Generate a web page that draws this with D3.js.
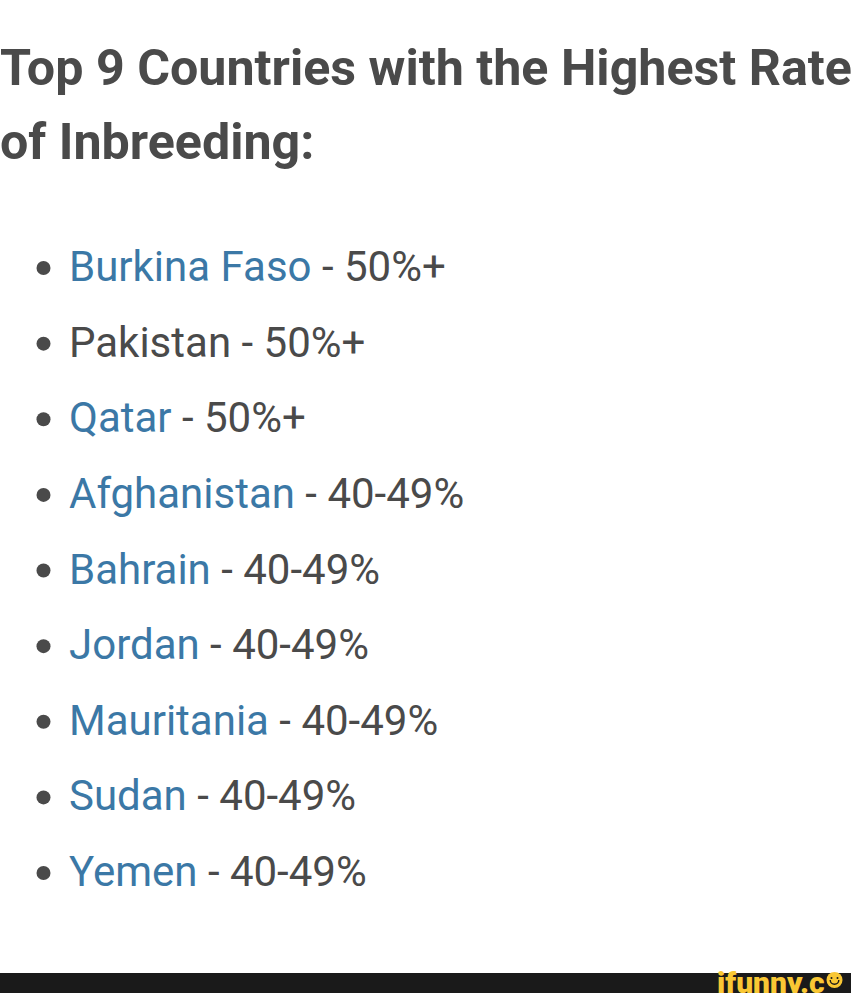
<!DOCTYPE html>
<html>
<head>
<meta charset="utf-8">
<script src="https://cdnjs.cloudflare.com/ajax/libs/d3/7.8.5/d3.min.js"></script>
<style>
html,body{margin:0;padding:0;background:#fff;}
svg{display:block;}
text{font-family:Roboto,sans-serif;}
</style>
</head>
<body>
<script>
var titleLines = ["Top 9 Countries with the Highest Rate", "of Inbreeding:"];
var countries = ["Burkina Faso","Pakistan","Qatar","Afghanistan","Bahrain","Jordan","Mauritania","Sudan","Yemen"];
var rates = ["50%+","50%+","50%+","40-49%","40-49%","40-49%","40-49%","40-49%","40-49%"];
var linked = [true,false,true,true,true,true,true,true,true];

var width = 851, height = 993;
var svg = d3.select("body").append("svg").attr("width", width).attr("height", height);

svg.append("rect").attr("width", width).attr("height", height).attr("fill", "#fff");

//title
svg.selectAll("text.title").data(titleLines).enter().append("text")
	.attr("class", "title")
	.attr("x", 0)
	.attr("y", function(d, i){ return 85 + i*74; })
	.attr("font-size", 50.2)
	.attr("font-weight", 700)
	.attr("fill", "#4a4a4a")
	.text(function(d){ return d; });

//rows
var y = d3.scalePoint().domain(countries).range([281, 886]);

var rows = svg.selectAll("g.row").data(countries).enter().append("g")
	.attr("class", "row")
	.attr("transform", function(d){ return "translate(0," + y(d) + ")"; });

rows.append("circle")
	.attr("cx", 43.5)
	.attr("cy", -13)
	.attr("r", 7)
	.attr("fill", "#4a4a4a");

var label = rows.append("text")
	.attr("x", 69)
	.attr("font-size", 42)
	.attr("fill", "#4a4a4a");

label.append("tspan")
	.attr("fill", function(d, i){ return linked[i] ? "#3b78a6" : "#4a4a4a"; })
	.text(function(d){ return d; });

label.append("tspan")
	.text(function(d, i){ return " - " + rates[i]; });

//footer bar
svg.append("rect")
	.attr("x", 0)
	.attr("y", 973)
	.attr("width", width)
	.attr("height", 20)
	.attr("fill", "#1a1a1a");

//watermark, the o is the smiley and the bottom runs off the picture
var logo = svg.append("g");

logo.append("text")
	.attr("x", 717)
	.attr("y", 993)
	.attr("font-size", 30)
	.attr("font-weight", 900)
	.attr("fill", "#f9c734")
	.text("ifunny.c");

logo.append("circle")
	.attr("cx", 834.5)
	.attr("cy", 980)
	.attr("r", 8)
	.attr("fill", "#f9c734");

logo.selectAll("circle.eye").data([-3, 3]).enter().append("circle")
	.attr("class", "eye")
	.attr("cx", function(d){ return 834.5 + d; })
	.attr("cy", 978)
	.attr("r", 1)
	.attr("fill", "#1a1a1a");

logo.append("path")
	.attr("d", d3.arc()({innerRadius: 3.6, outerRadius: 5, startAngle: Math.PI/2, endAngle: Math.PI*1.5}))
	.attr("transform", "translate(834.5,980)")
	.attr("fill", "#1a1a1a");
</script>
</body>
</html>
